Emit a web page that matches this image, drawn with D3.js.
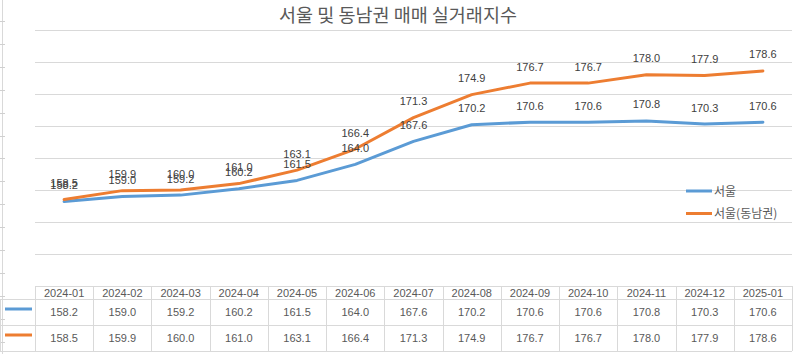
<!DOCTYPE html>
<html><head><meta charset="utf-8">
<script src="https://cdn.jsdelivr.net/npm/d3@7"></script>
<style>body{margin:0;background:#fff}svg{display:block}</style>
</head><body>
<script>
const title = "서울 및 동남권 매매 실거래지수";
const categories = ["2024-01","2024-02","2024-03","2024-04","2024-05","2024-06","2024-07","2024-08","2024-09","2024-10","2024-11","2024-12","2025-01"];
const seriesNames = ["서울","서울(동남권)"];
const seoul = [158.2,159.0,159.2,160.2,161.5,164.0,167.6,170.2,170.6,170.6,170.8,170.3,170.6];
const southeast = [158.5,159.9,160.0,161.0,163.1,166.4,171.3,174.9,176.7,176.7,178.0,177.9,178.6];
const yTicks = [150,155,160,165,170,175,180,185];
const colors = ["#5B9BD5","#ED7D31"];

(function(){
const W=797,H=354;
const svg=d3.select("body").append("svg").attr("width",W).attr("height",H);
const pl=35,pr=792,pt=30,pb=286;
const x=d3.scaleBand().domain(categories).range([pl,pr]);
const y=d3.scaleLinear().domain([145,185]).range([pb,pt]);
const cx=d=>x(d)+x.bandwidth()/2;
const series=[seoul,southeast];

// spreadsheet backdrop line at left
svg.append("line").attr("x1",2.5).attr("x2",2.5).attr("y1",0).attr("y2",H).attr("stroke","#d9d9d9");
d3.range(21,H,22.9).forEach(v=>svg.append("line").attr("x1",0).attr("x2",5).attr("y1",Math.round(v)+0.5).attr("y2",Math.round(v)+0.5).attr("stroke","#d0d0d0"));

// gridlines
svg.append("g").selectAll("line").data(yTicks).join("line")
 .attr("x1",pl).attr("x2",pr).attr("y1",d=>Math.round(y(d))+0.5).attr("y2",d=>Math.round(y(d))+0.5)
 .attr("stroke","#d9d9d9").attr("stroke-width",1);

// title
svg.append("text").attr("x",398).attr("y",22).attr("text-anchor","middle")
 .attr("font-family","'Noto Sans CJK KR'").attr("font-size",18.5).attr("fill","#595959").text(title);

// lines
const line=d3.line().x((d,i)=>cx(categories[i])).y(d=>y(d));
series.forEach((s,k)=>{
 svg.append("path").datum(s).attr("d",line).attr("fill","none").attr("stroke",colors[k])
  .attr("stroke-width",3).attr("stroke-linejoin","round").attr("stroke-linecap","round");
});
// data labels
series.forEach((s,k)=>{
 svg.append("g").selectAll("text").data(s).join("text")
  .attr("x",(d,i)=>cx(categories[i])).attr("y",d=>y(d)-12.5).attr("text-anchor","middle")
  .attr("font-family","'Liberation Sans',Arial").attr("font-size",11).attr("fill","#404040")
  .text(d=>d.toFixed(1));
});

// legend
const lg=svg.append("g");
seriesNames.forEach((n,k)=>{
 const ly=191+k*22.5;
 lg.append("line").attr("x1",686).attr("x2",712).attr("y1",ly).attr("y2",ly).attr("stroke",colors[k]).attr("stroke-width",3);
 lg.append("text").attr("x",714).attr("y",ly+4.5).attr("font-family","'Noto Sans CJK KR'").attr("font-size",12).attr("fill","#595959").text(n);
});

// data table
const tb=svg.append("g");
const gc="#d9d9d9";
tb.append("line").attr("x1",pl).attr("x2",pr).attr("y1",286.5).attr("y2",286.5).attr("stroke",gc);
[299,325,351].forEach(v=>tb.append("line").attr("x1",0).attr("x2",pr).attr("y1",v+0.5).attr("y2",v+0.5).attr("stroke",gc));
categories.forEach(c=>tb.append("line").attr("x1",Math.round(x(c))+0.5).attr("x2",Math.round(x(c))+0.5).attr("y1",286).attr("y2",351).attr("stroke",gc));
tb.append("line").attr("x1",pr+0.5).attr("x2",pr+0.5).attr("y1",286).attr("y2",351).attr("stroke",gc);
tb.append("line").attr("x1",0.5).attr("x2",0.5).attr("y1",299).attr("y2",351).attr("stroke",gc);
tb.selectAll("text.h").data(categories).join("text").attr("class","h")
 .attr("x",d=>cx(d)).attr("y",297).attr("text-anchor","middle")
 .attr("font-family","'Liberation Sans',Arial").attr("font-size",11).attr("fill","#595959").text(d=>d);
series.forEach((s,k)=>{
 const ry=[312,338][k];
 tb.append("line").attr("x1",5).attr("x2",32).attr("y1",ry-3).attr("y2",ry-3).attr("stroke",colors[k]).attr("stroke-width",3);
 tb.append("g").selectAll("text").data(s).join("text")
  .attr("x",(d,i)=>cx(categories[i])).attr("y",ry+4).attr("text-anchor","middle")
  .attr("font-family","'Liberation Sans',Arial").attr("font-size",11).attr("fill","#595959").text(d=>d.toFixed(1));
});
})();
</script>
</body></html>
